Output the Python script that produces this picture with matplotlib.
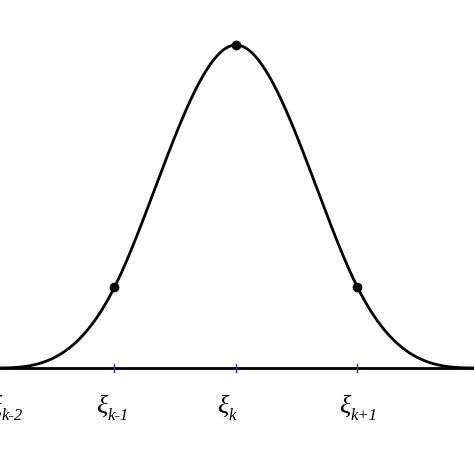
import numpy as np
import matplotlib
matplotlib.use("Agg")
import matplotlib.pyplot as plt

knots = [-2, -1, 0, 1, 2]
subs = ['k-2', 'k-1', 'k', 'k+1', '']
dot_x = [-1, 0, 1]
dot_y = [1/6, 2/3, 1/6]

def bspline(t):
    a = np.abs(t)
    return np.where(a < 1, 2/3 - a**2 + a**3/2, np.where(a < 2, (2 - a)**3/6, 0.0))

fig = plt.figure(figsize=(4.74, 4.74), dpi=100)
ax = fig.add_axes([0, 0, 1, 1])
ax.set_xlim(-1.942, 1.959)
ax.set_ylim(-0.2188, 0.7595)
ax.axis('off')

ax.axhline(0, color='black', lw=2)
x = np.linspace(-2.2, 2.2, 800)
ax.plot(x, bspline(x), color='black', lw=2)
ax.plot(dot_x, dot_y, 'o', color='black', ms=6)
for k, s in zip(knots, subs):
    ax.plot([k, k], [-0.008, 0.008], color='#3030a0', lw=1)
    if s:
        xs = k - 0.06 if k > -2 else -1.93
        ax.text(xs, -0.08, 'ξ', ha='right', va='center', fontsize=19,
                family='Liberation Serif', style='italic')
        ax.text(xs, -0.10, s, ha='left', va='center', fontsize=12,
                family='Liberation Serif', style='italic')

fig.savefig('out.png', dpi=100)
